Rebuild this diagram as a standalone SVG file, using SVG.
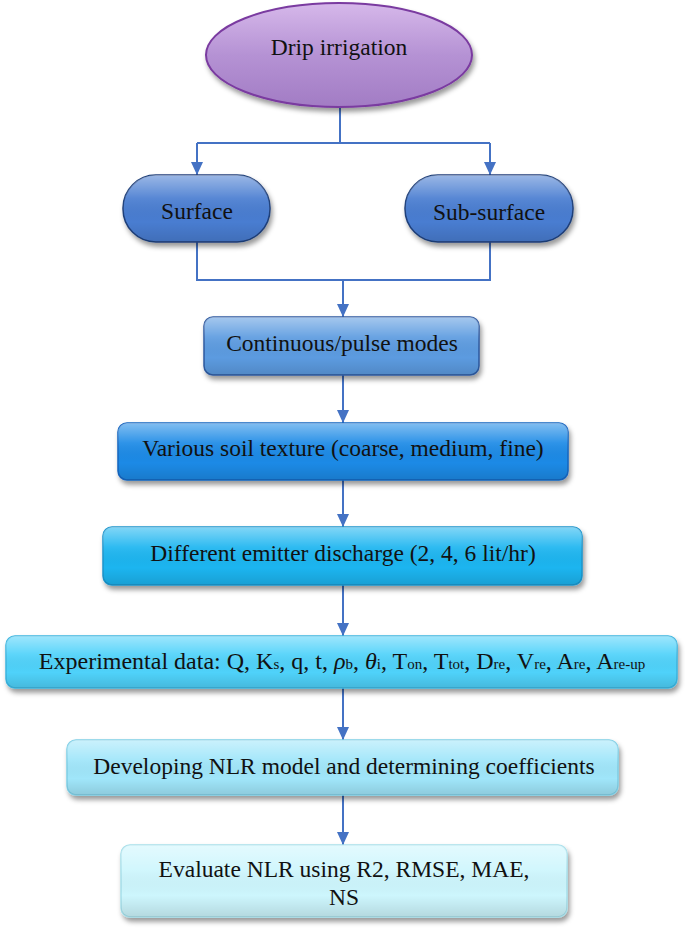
<svg xmlns="http://www.w3.org/2000/svg" width="685" height="930" viewBox="0 0 685 930">
<defs>
<style>
.t{font-family:"Liberation Serif","Times New Roman",serif;font-size:23.5px;fill:#111;text-anchor:middle}
.s{font-size:15px}
.c{fill:none;stroke:#4472c4;stroke-width:2}
.gl{fill:url(#gloss)}
</style>
<linearGradient id="gloss" x1="0" y1="0" x2="0" y2="1">
<stop offset="0" stop-color="#fff" stop-opacity="0.45"/>
<stop offset="0.35" stop-color="#fff" stop-opacity="0.08"/>
<stop offset="0.7" stop-color="#000" stop-opacity="0"/>
<stop offset="1" stop-color="#000" stop-opacity="0.12"/>
</linearGradient>
<linearGradient id="purple" x1="0" y1="0" x2="0" y2="1">
<stop offset="0" stop-color="#d6b8ea"/>
<stop offset="0.5" stop-color="#b592d4"/>
<stop offset="1" stop-color="#a27cc4"/>
</linearGradient>
<filter id="sh" x="-10%" y="-20%" width="125%" height="150%">
<feDropShadow dx="2" dy="4" stdDeviation="2.5" flood-color="#000" flood-opacity="0.4"/>
</filter>
<marker id="ah" markerUnits="userSpaceOnUse" markerWidth="12" markerHeight="13" refX="6" refY="13" orient="0" viewBox="0 0 12 13">
<path d="M0,0 L12,0 L6,13 Z" fill="#4472c4"/>
</marker>
</defs>

<g id="connectors">
<path class="c" d="M340 108 V143 M197 143 H490"/>
<path class="c" d="M197 143 V175" marker-end="url(#ah)"/>
<path class="c" d="M490 143 V175" marker-end="url(#ah)"/>
<path class="c" d="M197 242 V280 H490 V242"/>
<path class="c" d="M343 280 V317" marker-end="url(#ah)"/>
<path class="c" d="M343 375 V423" marker-end="url(#ah)"/>
<path class="c" d="M343 480 V527" marker-end="url(#ah)"/>
<path class="c" d="M343 585 V636" marker-end="url(#ah)"/>
<path class="c" d="M343 688 V740" marker-end="url(#ah)"/>
<path class="c" d="M343 795 V845" marker-end="url(#ah)"/>
</g>

<g id="drip">
<ellipse cx="339" cy="55" rx="133" ry="52" fill="url(#purple)" stroke="#7a3aa0" stroke-width="2" filter="url(#sh)"/>
<text class="t" x="339" y="55">Drip irrigation</text>
</g>

<g id="surface">
<rect x="123" y="175" width="147" height="67" rx="33" fill="#4a7dd1" stroke="#1f3f7a" stroke-width="1.5" filter="url(#sh)"/>
<rect class="gl" x="123" y="175" width="147" height="67" rx="33"/>
<text class="t" x="197" y="219">Surface</text>
</g>

<g id="subsurface">
<rect x="405" y="175" width="168" height="67" rx="33" fill="#4a7dd1" stroke="#1f3f7a" stroke-width="1.5" filter="url(#sh)"/>
<rect class="gl" x="405" y="175" width="168" height="67" rx="33"/>
<text class="t" x="489" y="220">Sub-surface</text>
</g>

<g id="modes">
<rect x="204" y="317" width="275" height="58" rx="9" fill="#5b9be0" stroke="#2e5aa0" stroke-width="1.5" filter="url(#sh)"/>
<rect class="gl" x="204" y="317" width="275" height="58" rx="9"/>
<text class="t" x="342" y="351">Continuous/pulse modes</text>
</g>

<g id="soil">
<rect x="118" y="423" width="450" height="57" rx="9" fill="#1e8ae6" stroke="#1565c0" stroke-width="1.5" filter="url(#sh)"/>
<rect class="gl" x="118" y="423" width="450" height="57" rx="9"/>
<text class="t" x="343" y="456">Various soil texture (coarse, medium, fine)</text>
</g>

<g id="discharge">
<rect x="103" y="527" width="479" height="58" rx="9" fill="#1db5f0" stroke="#1a95cc" stroke-width="1.5" filter="url(#sh)"/>
<rect class="gl" x="103" y="527" width="479" height="58" rx="9"/>
<text class="t" x="343" y="561">Different emitter discharge (2, 4, 6 lit/hr)</text>
</g>

<g id="experimental">
<rect x="6" y="636" width="671" height="52" rx="9" fill="#50d2fa" stroke="#3ab5e0" stroke-width="1.5" filter="url(#sh)"/>
<rect class="gl" x="6" y="636" width="671" height="52" rx="9"/>
<text class="t" x="342" y="669" style="font-size:24px">Experimental data: Q, K<tspan class="s">s</tspan>, q, t, <tspan font-style="italic">ρ</tspan><tspan class="s">b</tspan>, <tspan font-style="italic">θ</tspan><tspan class="s">i</tspan>, T<tspan class="s">on</tspan>, T<tspan class="s">tot</tspan>, D<tspan class="s">re</tspan>, V<tspan class="s">re</tspan>, A<tspan class="s">re</tspan>, A<tspan class="s">re-up</tspan></text>
</g>

<g id="nlr">
<rect x="67" y="740" width="551" height="55" rx="9" fill="#a0e6fa" stroke="#7fcfe6" stroke-width="1.5" filter="url(#sh)"/>
<rect class="gl" x="67" y="740" width="551" height="55" rx="9"/>
<text class="t" x="344" y="774">Developing NLR model and determining coefficients</text>
</g>

<g id="evaluate">
<rect x="121" y="845" width="446" height="72" rx="9" fill="#cdf6fd" stroke="#a6dfea" stroke-width="1.5" filter="url(#sh)"/>
<rect class="gl" x="121" y="845" width="446" height="72" rx="9"/>
<text class="t" x="344" y="877">Evaluate NLR using R2, RMSE, MAE,</text>
<text class="t" x="344" y="905">NS</text>
</g>
</svg>
